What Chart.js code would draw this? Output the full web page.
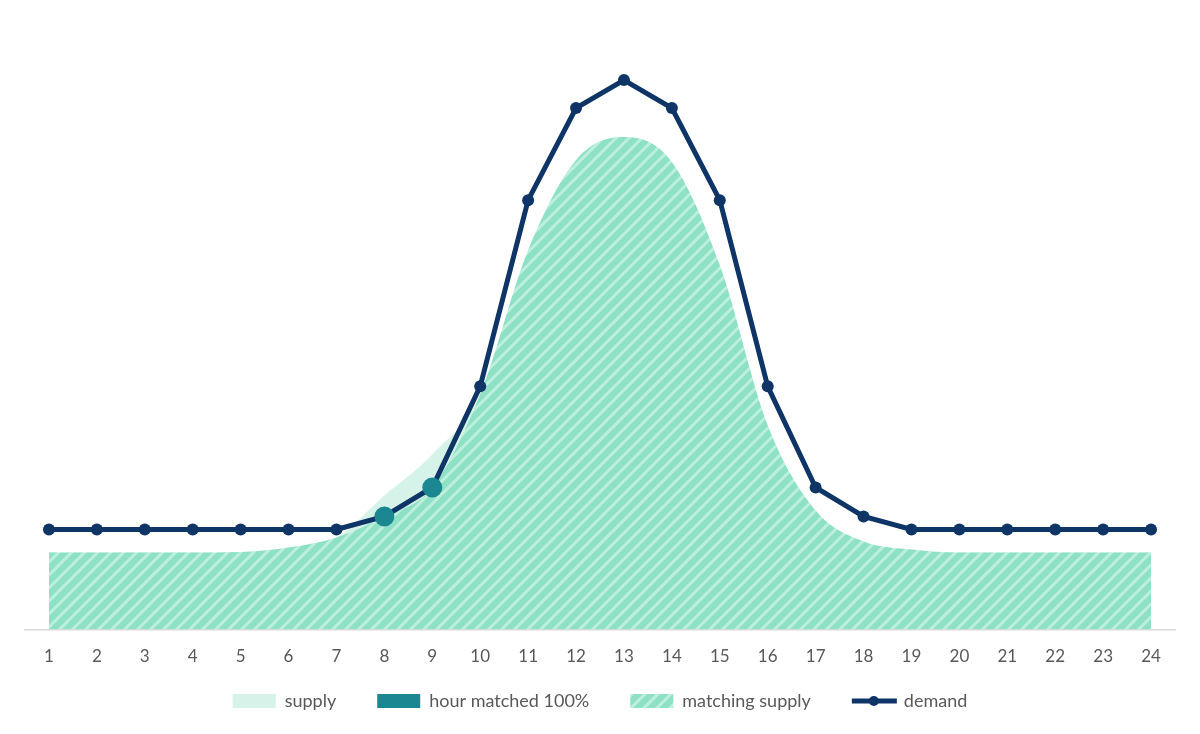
<!DOCTYPE html>
<html>
<head>
<meta charset="utf-8">
<script src="https://cdn.jsdelivr.net/npm/chart.js@4.4.1/dist/chart.umd.min.js"></script>
<style>
  html, body { margin: 0; padding: 0; background: #fff; }
  #wrap { width: 1200px; height: 734px; }
</style>
</head>
<body>
<div id="wrap"><canvas id="myChart"></canvas></div>
<script>
// hours of the day
var hours = ['1','2','3','4','5','6','7','8','9','10','11','12','13','14','15','16','17','18','19','20','21','22','23','24'];
// demand per hour
var demand = [20, 20, 20, 20, 20, 20, 20, 22.6, 28.4, 48.6, 85.8, 104.2, 109.8, 104.2, 85.8, 48.6, 28.4, 22.6, 20, 20, 20, 20, 20, 20];
// supply per hour
var supply = [15.4, 15.4, 15.4, 15.4, 15.5, 16.4, 18.4, 26.8, 35, 47, 75.8, 93.8, 98.4, 93.4, 72.8, 40.8, 23.8, 17.6, 16, 15.4, 15.4, 15.4, 15.4, 15.4];

// matching part = whatever of supply is used by demand
var matching = supply.map(function(s, i){ return Math.min(s, demand[i]); });
// hours where supply covers the whole demand
var matched = supply.map(function(s, i){ return s >= demand[i] ? demand[i] : null; });

// hatch pattern for matching supply
function makeHatch(){
    var c = document.createElement('canvas');
    c.width = 13; c.height = 13;
    var g = c.getContext('2d');
    g.fillStyle = '#8fe1c5';
    g.fillRect(0, 0, 13, 13);
    g.strokeStyle = '#bdefdd';
    g.lineWidth = 3;
    g.beginPath();
    g.moveTo(-3, 16); g.lineTo(16, -3);
    g.moveTo(-10, 10); g.lineTo(10, -10);
    g.moveTo(3, 23); g.lineTo(23, 3);
    g.stroke();
    return g.createPattern(c, 'repeat');
}
var hatch = makeHatch();

var navy = '#0f3466';
var teal = '#1b8790';

// wide gaps between legend items but a short legend block
var legendShrink = 33;
var legendLift = 33;
var legendTweak = {
    id: 'legendTweak',
    afterInit: function(chart){
        var lg = chart.legend;
        var fit = lg.fit;
        lg.fit = function(){
            fit.call(this);
            this.height -= legendShrink;
        };
    },
    afterLayout: function(chart){
        var lg = chart.legend;
        lg.top -= legendLift;
        lg.height += legendShrink;
        lg.bottom = lg.top + lg.height;
    }
};

// draw the demand legend symbol as a line with a dot
var demandLegend = {
    id: 'demandLegend',
    afterDraw: function(chart){
        var box = chart.legend.legendHitBoxes[3];
        if (!box) return;
        var ctx = chart.ctx;
        var y = box.top + box.height / 2;
        ctx.save();
        ctx.strokeStyle = navy;
        ctx.lineWidth = 5;
        ctx.beginPath();
        ctx.moveTo(box.left, y);
        ctx.lineTo(box.left + 45, y);
        ctx.stroke();
        ctx.fillStyle = navy;
        ctx.beginPath();
        ctx.arc(box.left + 22, y, 5, 0, Math.PI * 2);
        ctx.fill();
        ctx.restore();
    }
};

var ctx = document.getElementById('myChart').getContext('2d');
var myChart = new Chart(ctx, {
    type: 'line',
    data: {
        labels: hours,
        datasets: [{
            label: 'supply',
            data: supply,
            order: 4,
            backgroundColor: '#d5f3e9',
            borderWidth: 0,
            pointRadius: 0,
            fill: 'origin',
            cubicInterpolationMode: 'monotone'
        }, {
            label: 'hour matched 100%',
            data: matched,
            order: 1,
            showLine: false,
            backgroundColor: teal,
            borderColor: teal,
            pointRadius: 10,
            pointBorderWidth: 0
        }, {
            label: 'matching supply',
            data: matching,
            order: 3,
            backgroundColor: hatch,
            borderWidth: 0,
            pointRadius: 0,
            fill: 'origin',
            cubicInterpolationMode: 'monotone'
        }, {
            label: 'demand',
            data: demand,
            order: 2,
            borderColor: navy,
            backgroundColor: navy,
            borderWidth: 5,
            pointRadius: 6,
            pointBorderWidth: 0,
            fill: false
        }]
    },
    options: {
        responsive: true,
        maintainAspectRatio: false,
        animation: false,
        layout: { padding: { top: 29, left: 25, right: 25, bottom: 14 } },
        scales: {
            x: {
                offset: true,
                grid: { display: false, drawTicks: false },
                border: { display: true, color: '#d9d9d9', width: 1.5 },
                ticks: { color: '#595959', font: { family: 'Lato', size: 17 }, padding: 17, maxRotation: 0 }
            },
            y: {
                display: false,
                min: 0,
                max: 120
            }
        },
        plugins: {
            tooltip: { enabled: false },
            legend: {
                position: 'bottom',
                labels: {
                    color: '#595959',
                    font: { family: 'Lato', size: 18 },
                    boxWidth: 43,
                    boxHeight: 14,
                    padding: 41,
                    sort: function(a, b){ return a.datasetIndex - b.datasetIndex; },
                    generateLabels: function(chart){
                        var items = Chart.defaults.plugins.legend.labels.generateLabels(chart);
                        items.forEach(function(it){
                            it.lineWidth = 0;
                            if (it.datasetIndex === 1) it.fillStyle = teal;
                            if (it.datasetIndex === 3) { it.fillStyle = 'rgba(0,0,0,0)'; it.strokeStyle = 'rgba(0,0,0,0)'; }
                        });
                        return items;
                    }
                }
            }
        }
    },
    plugins: [legendTweak, demandLegend]
});
</script>
</body>
</html>
